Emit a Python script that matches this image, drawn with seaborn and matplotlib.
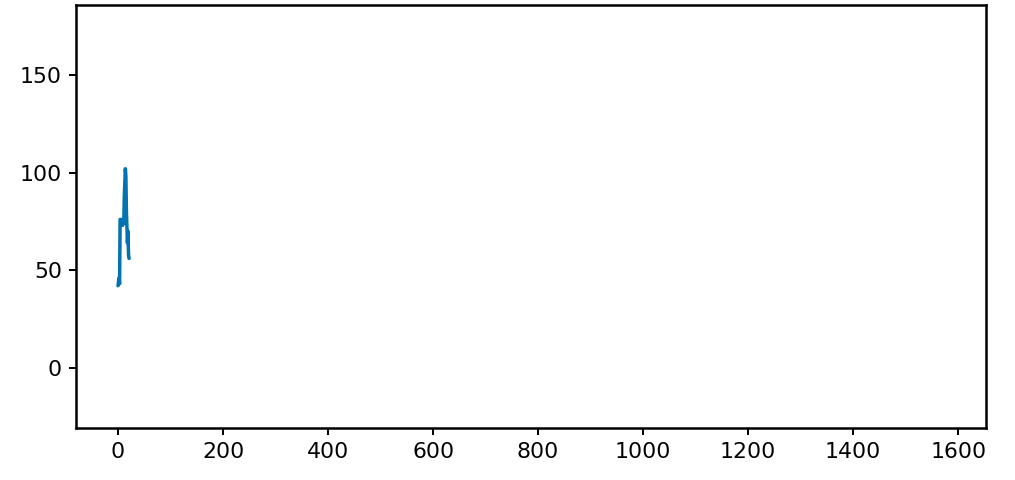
import numpy as np
import pandas as pd
import matplotlib
matplotlib.use("Agg")
import matplotlib.pyplot as plt
import seaborn as sns

# values
steps = [0, 1, 2, 3, 4, 5, 6, 7, 8, 9, 10, 11, 12, 13, 14, 15, 16, 17, 18, 19, 20, 21]
values = [42, 44, 46, 43, 76, 76, 76, 75, 73, 73, 76, 74, 88, 95, 102, 98, 80, 72, 64, 70, 58, 56]

x_limits = (-80, 1653)
y_limits = (-31, 186)

sns.set_style("white")
plt.rcParams["font.family"] = ["DejaVu Sans"]
plt.rcParams["axes.linewidth"] = 1.25
plt.rcParams["xtick.major.size"] = 3.5
plt.rcParams["ytick.major.size"] = 3.5
plt.rcParams["xtick.major.width"] = 1.0
plt.rcParams["ytick.major.width"] = 1.0

df = pd.DataFrame({"step": steps, "value": values})

fig = plt.figure(figsize=(1015 / 144, 480 / 144), dpi=144)
ax = fig.add_axes([76 / 1015, 1 - 428 / 480, (986 - 76) / 1015, (428 - 5) / 480])
sns.lineplot(data=df, x="step", y="value", ax=ax, color=sns.color_palette("colorblind")[0], linewidth=1.75)
ax.set_xlim(*x_limits)
ax.set_ylim(*y_limits)
ax.set_xticks([0, 200, 400, 600, 800, 1000, 1200, 1400, 1600])
ax.set_yticks([0, 50, 100, 150])
ax.tick_params(axis="both", labelsize=11, bottom=True, left=True, color="black", labelcolor="black")
for s in ax.spines.values():
    s.set_color("black")
ax.set_xlabel("")
ax.set_ylabel("")

fig.savefig("out.png", dpi=144)
